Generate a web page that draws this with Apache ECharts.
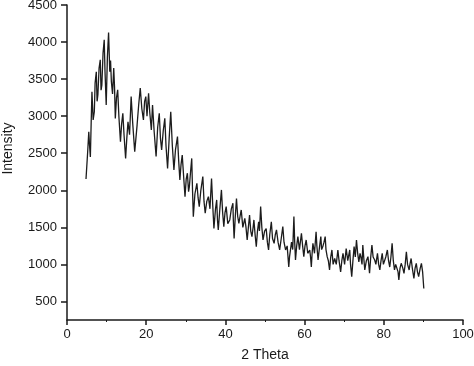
<!DOCTYPE html>
<html>
<head>
<meta charset="utf-8">
<script src="https://cdn.jsdelivr.net/npm/echarts@6/dist/echarts.min.js"></script>
<style>
  html, body { margin: 0; padding: 0; background: #fff; }
  #chart { width: 474px; height: 366px; }
</style>
</head>
<body>
<div id="chart"></div>
<script>
// 2 theta (deg) and intensity
var theta = [
  4.8, 5.2, 5.5, 5.7, 5.9, 6.1, 6.3, 6.6, 6.9, 7.1, 7.4, 7.6, 7.8, 8.1, 8.4, 8.6, 8.8, 9.1, 9.4, 9.6,
  9.9, 10.2, 10.5, 10.8, 11.0, 11.2, 11.5, 11.8, 12.0, 12.2, 12.5, 12.8, 13.1, 13.5, 13.8, 14.1, 14.4, 14.8,
  15.1, 15.4, 15.8, 16.2, 16.6, 17.1, 17.4, 17.7, 18.1, 18.5, 18.9, 19.3, 19.6, 19.9, 20.2, 20.6, 20.9, 21.3,
  21.6, 22.0, 22.5, 22.9, 23.3, 23.6, 23.9, 24.3, 24.7, 25.0, 25.4, 25.8, 26.2, 26.6, 27.0, 27.4, 27.9,
  28.2, 28.5, 28.8, 29.1, 29.5, 29.8, 30.1, 30.4, 30.7, 30.9, 31.2, 31.5, 31.7, 31.9, 32.3, 32.8, 33.1,
  33.4, 33.8, 34.3, 34.6, 34.9, 35.3, 35.7, 36.1, 36.5, 36.8, 37.1, 37.5, 37.8, 38.0, 38.2, 38.6,
  39.0, 39.3, 39.6, 39.9, 40.2, 40.6, 41.1, 41.5, 41.9, 42.0, 42.2, 42.5, 42.8, 43.1, 43.4, 43.7, 44.0,
  44.4, 44.9, 45.2, 45.5, 45.8, 46.1, 46.4, 46.7, 47.0, 47.2, 47.5, 47.8, 48.1, 48.4, 48.6, 48.9, 49.2,
  49.5, 49.9, 50.3, 50.6, 50.9, 51.2, 51.6, 51.9, 52.3, 52.6, 52.9, 53.3, 53.7, 54.1, 54.5, 54.8, 55.2,
  55.6, 56.0, 56.2, 56.7, 57.0, 57.3, 57.5, 57.7, 58.0, 58.3, 58.7, 59.2, 59.5, 59.8, 60.1, 60.4, 60.8,
  61.3, 61.5, 61.7, 61.9, 62.1, 62.5, 62.9, 63.1, 63.4, 63.8, 64.1, 64.3, 64.6, 64.9, 65.2, 65.4, 65.7,
  66.0, 66.3, 66.6, 66.9, 67.2, 67.6, 68.0, 68.4, 68.7, 69.1, 69.4, 69.7, 70.1, 70.5, 70.9, 71.4, 71.6,
  71.9, 72.2, 72.5, 72.8, 73.1, 73.4, 73.7, 74.0, 74.2, 74.5, 74.7, 75.0, 75.2, 75.6, 76.0, 76.2, 76.4,
  76.7, 77.0, 77.3, 77.7, 78.0, 78.4, 78.7, 79.0, 79.3, 79.6, 79.9, 80.2, 80.5, 80.9, 81.2, 81.5, 81.8,
  82.1, 82.4, 82.7, 83.0, 83.4, 83.6, 83.8, 84.1, 84.4, 84.8, 85.1, 85.4, 85.7, 86.0, 86.4, 86.6, 86.9,
  87.2, 87.6, 87.9, 88.2, 88.5, 88.8, 89.2, 89.5, 89.8, 90.1
];
var intensity = [
  2152, 2500, 2790, 2600, 2450, 2900, 3330, 2950, 3060, 3450, 3600, 3200, 3290, 3650, 3760, 3350, 3420, 3850, 4030, 3600,
  3150, 3800, 4130, 3600, 3750, 3470, 3300, 3650, 3400, 2970, 3250, 3355, 3000, 2655, 2900, 3040, 2750, 2430,
  2700, 2925, 2750, 3265, 2900, 2520, 2700, 2880, 3150, 3380, 3100, 2950, 3200, 3265, 3000, 3310, 3050, 2815,
  3150, 2800, 2455, 2850, 3040, 2700, 2545, 2800, 2970, 2600, 2295, 2700, 3060, 2600, 2275, 2550, 2725,
  2400, 2140, 2350, 2475, 2150, 1915, 2150, 2230, 1980, 2050, 2250, 2430, 2000, 1645, 1950, 2095, 1900,
  1780, 2000, 2185, 1850, 1690, 1850, 1915, 1750, 2160, 1800, 1485, 1750, 1870, 1600, 1465, 1750,
  2005, 1700, 1510, 1700, 1780, 1550, 1600, 1750, 1825, 1600, 1350, 1650, 1890, 1650, 1555, 1650, 1735,
  1500, 1620, 1500, 1330, 1500, 1665, 1450, 1375, 1500, 1600, 1400, 1240, 1450, 1575, 1450, 1780, 1500,
  1330, 1450, 1485, 1300, 1195, 1400, 1575, 1350, 1285, 1400, 1465, 1300, 1195, 1350, 1510, 1300, 1195,
  1250, 965, 1105, 1300, 1200, 1645, 1300, 1060, 1250, 1375, 1200, 1420, 1250, 1105, 1250, 1330, 1150,
  1195, 1100, 965, 1150, 1285, 1150, 1440, 1250, 1060, 1250, 1375, 1200, 1240, 1300, 1375, 1200, 1105,
  1050, 925, 1100, 1195, 1000, 1080, 1000, 1195, 1050, 900, 1050, 1150, 1000, 1215, 1050, 1195, 1000,
  835, 1050, 1240, 1100, 1330, 1150, 1035, 1150, 1105, 1000, 1260, 1050, 925, 1050, 1105, 1000, 880,
  1100, 1260, 1100, 1060, 1000, 1150, 1000, 925, 1050, 1150, 1000, 1015, 1100, 1195, 1050, 965, 1100,
  1285, 1050, 925, 1000, 1015, 900, 790, 950, 1015, 950, 880, 1000, 1170, 1000, 925, 1000, 1080,
  950, 810, 950, 1015, 900, 835, 950, 1015, 900, 675
];
var yTicks = [500, 1000, 1500, 2000, 2500, 3000, 3500, 4000, 4500];

var points = theta.map(function (t, i) { return [t, intensity[i]]; });

var chart = echarts.init(document.getElementById('chart'));
var axisColor = '#1a1a1a';
var font = 'Liberation Sans, Arial, sans-serif';

chart.setOption({
  animation: false,
  grid: { left: 67, right: 11, top: 5, bottom: 46, containLabel: false, outerBoundsMode: 'none' },
  xAxis: {
    type: 'value',
    min: 0,
    max: 100,
    interval: 20,
    name: '2 Theta',
    nameLocation: 'middle',
    nameGap: 28,
    nameTextStyle: { fontFamily: font, fontSize: 14, color: axisColor },
    axisLine: { show: true, lineStyle: { color: axisColor, width: 1.5 } },
    axisTick: { show: true, length: 5, lineStyle: { color: axisColor, width: 1.5 } },
    minorTick: { show: true, splitNumber: 2, length: 2, lineStyle: { color: axisColor, width: 1 } },
    axisLabel: { fontFamily: font, fontSize: 13, color: axisColor, margin: 8, formatter: function (v) { return String(v); } },
    splitLine: { show: false }
  },
  yAxis: {
    type: 'value',
    min: 250,
    max: 4500,
    name: 'Intensity',
    nameLocation: 'middle',
    nameGap: 52,
    nameTextStyle: { fontFamily: font, fontSize: 14, color: axisColor, padding: [0, 0, 0, 28] },
    axisLine: { show: true, lineStyle: { color: axisColor, width: 1.5 } },
    axisTick: { show: true, length: 6, customValues: yTicks, lineStyle: { color: axisColor, width: 1.5 } },
    axisLabel: { fontFamily: font, fontSize: 13, color: axisColor, margin: 10, customValues: yTicks, formatter: function (v) { return String(v); } },
    splitLine: { show: false }
  },
  series: [{
    type: 'line',
    data: points,
    showSymbol: false,
    symbol: 'none',
    lineStyle: { color: '#1c1c1c', width: 1.3 }
  }]
});
</script>
</body>
</html>
